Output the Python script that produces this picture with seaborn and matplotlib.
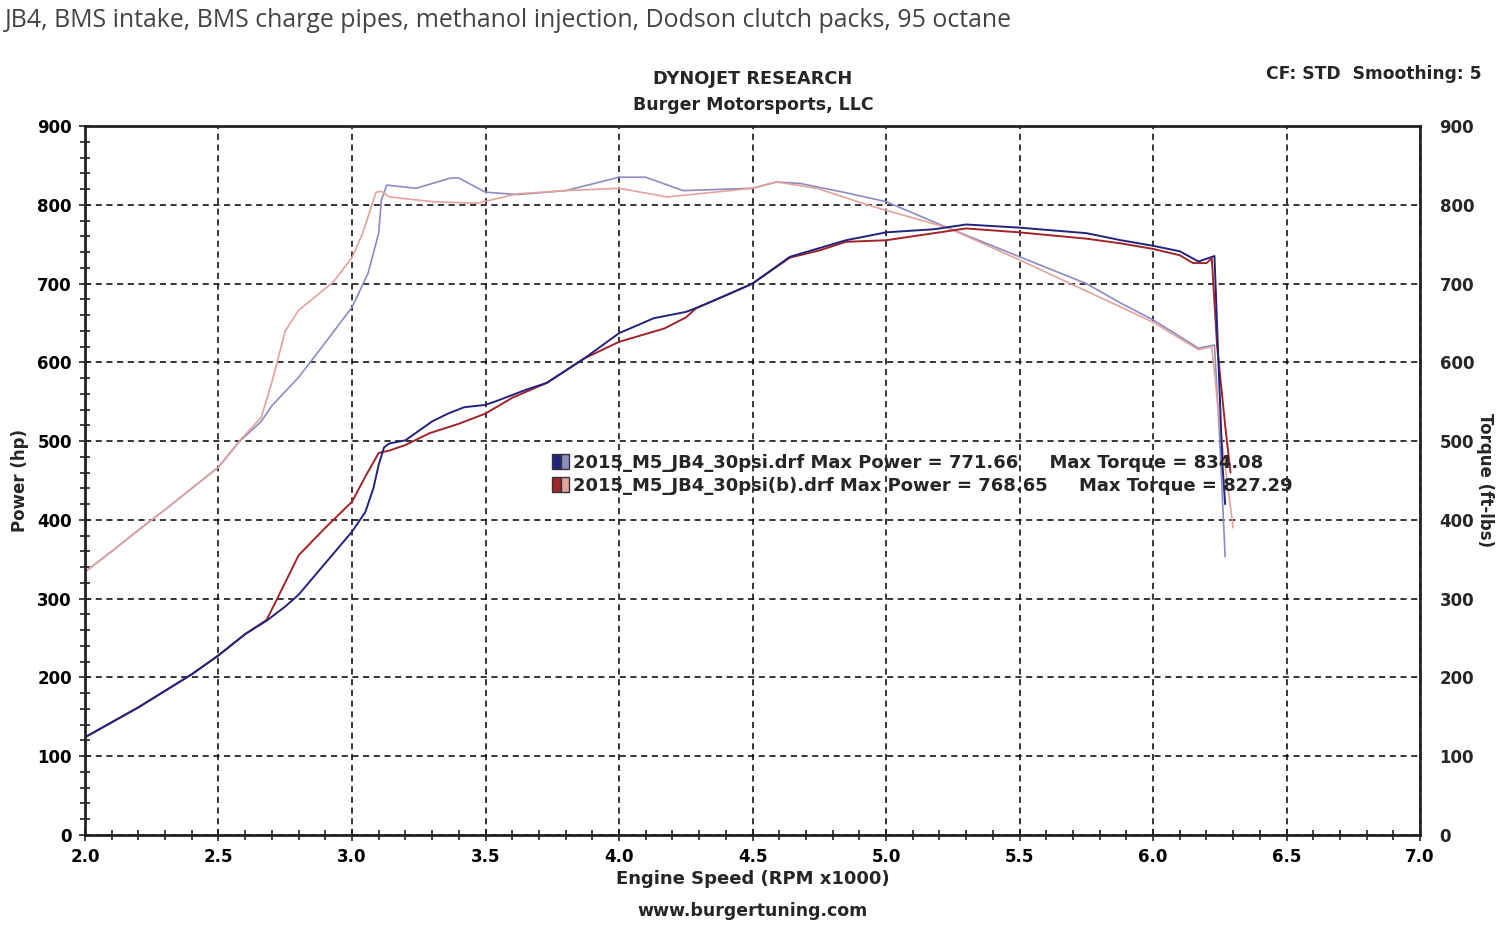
import numpy as np
import pandas as pd
import seaborn as sns
import matplotlib.pyplot as plt
from matplotlib.patches import Patch
from matplotlib.legend_handler import HandlerTuple
from matplotlib.ticker import MultipleLocator

# --- run 1 (blue): power and torque vs rpm x1000 ---
rpm_blue_hp = [2.0, 2.1, 2.2, 2.3, 2.4, 2.5, 2.6, 2.68, 2.75, 2.8, 2.9, 3.0, 3.05, 3.08, 3.1,
               3.12, 3.14, 3.2, 3.3, 3.36, 3.42, 3.5, 3.55, 3.65, 3.73, 3.87, 4.0, 4.13, 4.25,
               4.29, 4.4, 4.5, 4.64, 4.75, 4.85, 5.0, 5.18, 5.3, 5.5, 5.75, 5.88, 6.0, 6.1,
               6.17, 6.23, 6.245, 6.26, 6.27]
hp_blue = [124, 143, 162, 183, 204, 228, 255, 272, 290, 305, 345, 385, 410, 440, 470,
           492, 497, 501, 525, 535, 543, 546, 552, 565, 574, 605, 637, 656, 664,
           669, 685, 700, 734, 745, 755, 765, 769, 775, 771, 764, 755, 748, 741,
           728, 735, 600, 470, 420]

rpm_blue_tq = [2.0, 2.1, 2.2, 2.3, 2.4, 2.5, 2.58, 2.66, 2.7, 2.8, 2.9, 3.0, 3.06, 3.1, 3.11,
               3.13, 3.24, 3.37, 3.4, 3.5, 3.62, 3.8, 3.93, 4.0, 4.1, 4.24, 4.5, 4.59, 4.68,
               4.84, 5.0, 5.23, 5.5, 5.75, 5.88, 6.0, 6.17, 6.23, 6.25, 6.27]
tq_blue = [334, 360, 387, 413, 440, 467, 500, 525, 545, 581, 625, 670, 713, 764, 806,
           825, 821, 834, 834, 816, 813, 818, 829, 835, 835, 818, 821, 829, 827,
           816, 804, 771, 734, 700, 675, 654, 618, 622, 500, 353]

# --- run 2 (red) ---
rpm_red_hp = [2.0, 2.1, 2.2, 2.3, 2.4, 2.5, 2.6, 2.68, 2.72, 2.8, 2.9, 3.0, 3.05, 3.1, 3.14,
              3.2, 3.29, 3.4, 3.5, 3.6, 3.73, 3.87, 4.0, 4.17, 4.25, 4.29, 4.4, 4.5, 4.64,
              4.75, 4.85, 5.0, 5.18, 5.26, 5.3, 5.5, 5.75, 5.88, 6.0, 6.1, 6.15, 6.2, 6.22,
              6.24, 6.27, 6.29]
hp_red = [124, 143, 162, 183, 204, 228, 255, 273, 300, 355, 390, 423, 455, 485, 488,
          495, 510, 522, 535, 555, 574, 605, 626, 643, 657, 669, 685, 700, 733,
          742, 753, 755, 764, 768, 770, 765, 757, 751, 744, 736, 726, 726, 732,
          620, 520, 460]

rpm_red_tq = [2.0, 2.1, 2.2, 2.3, 2.4, 2.5, 2.58, 2.66, 2.7, 2.75, 2.8, 2.93, 3.0, 3.04, 3.09,
              3.11, 3.14, 3.3, 3.47, 3.62, 3.8, 4.0, 4.18, 4.3, 4.5, 4.59, 4.74, 4.93, 5.0,
              5.23, 5.5, 5.88, 6.0, 6.17, 6.22, 6.25, 6.3]
tq_red = [334, 360, 387, 413, 440, 467, 501, 530, 575, 640, 666, 702, 733, 764, 816,
          817, 810, 804, 802, 814, 818, 821, 810, 814, 821, 829, 821, 800, 793,
          771, 730, 670, 651, 616, 620, 520, 390]

legend_labels = [
    "2015_M5_JB4_30psi.drf Max Power = 771.66     Max Torque = 834.08",
    "2015_M5_JB4_30psi(b).drf Max Power = 768.65     Max Torque = 827.29",
]

blue_dark, blue_light = "#23237f", "#8a8cc6"
red_dark, red_light = "#a3232a", "#e3a29a"

sns.set_style("white")
plt.rcParams['font.family'] = ['DejaVu Sans']

fig = plt.figure(figsize=(15.12, 9.26), dpi=100)
ax = fig.add_axes([0.0562, 0.0983, 0.8830, 0.7656])

sns.lineplot(x=rpm_blue_tq, y=tq_blue, ax=ax, color=blue_light, lw=1.2, estimator=None)
sns.lineplot(x=rpm_red_tq, y=tq_red, ax=ax, color=red_light, lw=1.2, estimator=None)
sns.lineplot(x=rpm_red_hp, y=hp_red, ax=ax, color=red_dark, lw=1.4, estimator=None)
sns.lineplot(x=rpm_blue_hp, y=hp_blue, ax=ax, color=blue_dark, lw=1.4, estimator=None)

ax.set_xlim(2.0, 7.0)
ax.set_ylim(0, 900)
ax.xaxis.set_major_locator(MultipleLocator(0.5))
ax.xaxis.set_minor_locator(MultipleLocator(0.1))
ax.yaxis.set_major_locator(MultipleLocator(100))
ax.yaxis.set_minor_locator(MultipleLocator(20))
ax.xaxis.set_major_formatter(lambda v, p: f"{v:.1f}")
ax.grid(True, which='major', color='black', linestyle=(0, (4, 3)), lw=1.1)
for s in ax.spines.values():
    s.set_color('#222222')
    s.set_linewidth(2)

ax.tick_params(which='both', direction='inout', colors='#222222', labelcolor='black',
               labelsize=12, width=1.2)
ax.tick_params(which='major', length=9, pad=5)
ax.tick_params(which='minor', length=7)
ax.tick_params(axis='y', which='both', left=True, right=True)
ax.tick_params(axis='x', which='both', bottom=True, top=False)
for lab in ax.get_xticklabels() + ax.get_yticklabels():
    lab.set_fontweight('bold')

ax2 = ax.twinx()
ax2.set_ylim(0, 900)
ax2.yaxis.set_major_locator(MultipleLocator(100))
ax2.tick_params(length=0, labelsize=12, pad=14)
for lab in ax2.get_yticklabels():
    lab.set_fontweight('bold')
for s in ax2.spines.values():
    s.set_visible(False)

ax.set_xlabel("Engine Speed (RPM x1000)", fontsize=13, fontweight='bold', labelpad=3)
ax.set_ylabel("Power (hp)", fontsize=12, fontweight='bold', labelpad=6)
ax2.set_ylabel("Torque (ft-lbs)", fontsize=12, fontweight='bold', rotation=270, labelpad=14)

handles = [(Patch(fc=blue_dark, ec='#333333'), Patch(fc=blue_light, ec='#333333')),
           (Patch(fc=red_dark, ec='#333333'), Patch(fc=red_light, ec='#333333'))]
ax.legend(handles, legend_labels, handler_map={tuple: HandlerTuple(ndivide=None, pad=0)},
          loc='center left', bbox_to_anchor=(0.338, 0.509), frameon=False,
          handlelength=0.9, handleheight=0.9, handletextpad=0.25, labelspacing=0.28,
          prop={'weight': 'bold', 'size': 13})

fig.text(0.003, 0.978, "JB4, BMS intake, BMS charge pipes, methanol injection, Dodson clutch packs, 95 octane",
         fontsize=17.9, family='Open Sans', color='#444444', va='center', ha='left')
fig.text(0.498, 0.915, "DYNOJET RESEARCH", fontsize=12.8, fontweight='bold', ha='center', va='center')
fig.text(0.498, 0.887, "Burger Motorsports, LLC", fontsize=12.5, fontweight='bold', ha='center', va='center')
fig.text(0.980, 0.920, "CF: STD  Smoothing: 5", fontsize=12.3, fontweight='bold', ha='right', va='center')
fig.text(0.498, 0.016, "www.burgertuning.com", fontsize=12.5, fontweight='bold', ha='center', va='center')

fig.savefig("out.png", dpi=100)
